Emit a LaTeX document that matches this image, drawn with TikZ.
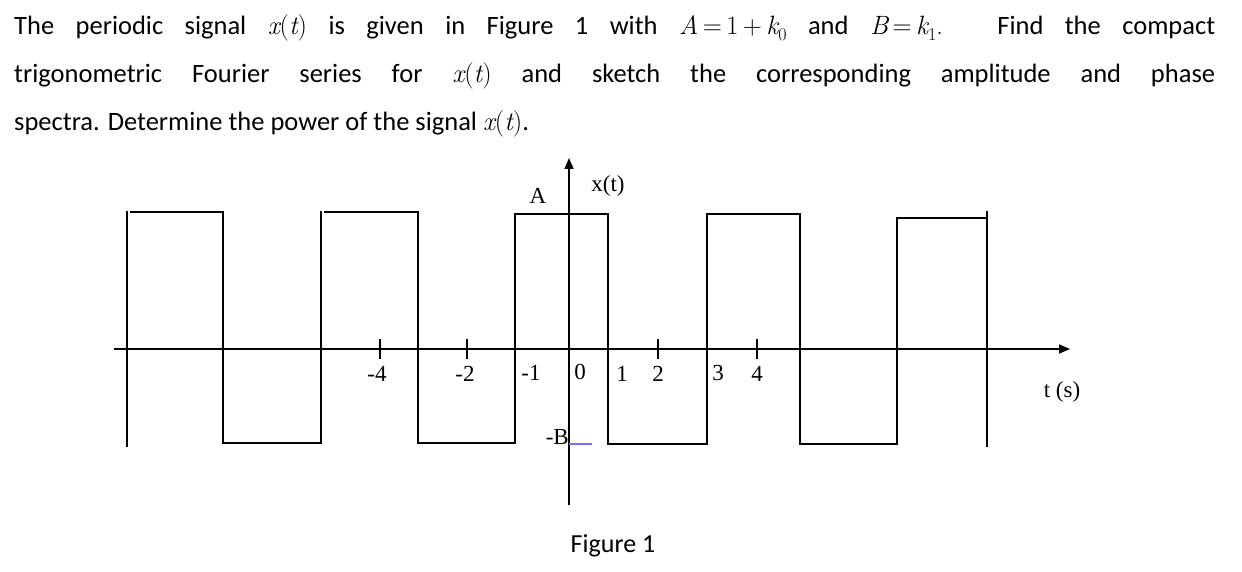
\documentclass[tikz,border=0pt]{standalone}
\usepackage{fontspec}
\setmainfont{Carlito}
\newfontfamily\tnr{Liberation Serif}
\newfontfamily\cmath{Latin Modern Roman}
\newcommand\mv[1]{{\cmath\itshape #1}}
\newcommand\mr[1]{{\cmath #1}}
\newcommand\sub[1]{\raisebox{-0.22em}{\cmath\fontsize{18}{18}\selectfont #1}}
\usetikzlibrary{arrows.meta}
\begin{document}
\begin{tikzpicture}[x=1pt,y=-1pt,
  sig/.style={line width=1.6pt,line cap=rect},
  ax/.style={line width=1.6pt},
  lab/.style={font=\tnr\fontsize{23}{23}\selectfont,inner sep=0pt},
  txt/.style={anchor=base west,inner sep=0pt,font=\fontsize{26.5}{30}\selectfont}]
\useasboundingbox (0,0) rectangle (1242,572);
\node[txt] (l1) at (14,35) {\makebox[1201pt][s]{The periodic signal \mv{x}\mr{(}\mv{t}\mr{)} is given in Figure 1 with \mv{A}\,\mr{=}\,\mr{1}\,\mr{+}\,\mv{k}\sub{0} and \mv{B}\,\mr{=}\,\mv{k}\sub{1}\mr{.} Find the compact}};
\node[txt] (l2) at (14,83) {\makebox[1201pt][s]{trigonometric Fourier series for \mv{x}\mr{(}\mv{t}\mr{)} and sketch the corresponding amplitude and phase}};
\node[txt] (l3) at (14,131) {spectra. Determine the power of the signal \mv{x}\mr{(}\mv{t}\mr{)}.};
% axes
\coordinate (xs) at (114,349); \coordinate (xe) at (1070,349);
\coordinate (ys) at (569,505); \coordinate (ye) at (569,158);
\draw[ax,-{Triangle[length=11pt,width=9pt]}] (xs) -- (xe);
\draw[ax,-{Triangle[length=11pt,width=9pt]}] (ys) -- (ye);
% signal
\draw[sig] (127,446) -- (127,212);
\draw[sig] (131,212) -- (223,212) -- (223,443) -- (321,443) -- (321,212);
\draw[sig] (325,212) -- (418,212) -- (418,443) -- (515,443) -- (515,214) -- (608,214) -- (608,444) -- (707,444) -- (707,214);
\draw[sig] (707,214) -- (800,214) -- (800,444) -- (897,444) -- (897,218) -- (987,218);
\draw[sig] (987,212) -- (987,446);
% ticks
\foreach \x/\n in {380/tm4,467/tm2,658/tp2,757/tp4}{\draw[ax] (\x,339) -- (\x,359) coordinate (\n);}
\node[lab] (n4) at (377,374) {-4};
\node[lab] (n2) at (465,374) {-2};
\node[lab] (n1) at (531,373) {-1};
\node[lab] (z0) at (580,372) {0};
\node[lab] (p1) at (622,374) {1};
\node[lab] (p2) at (658,374) {2};
\node[lab] (p3) at (718,373) {3};
\node[lab] (p4) at (757,374) {4};
\node[lab] (A) at (538,196) {A};
\node[lab] (xt) at (608,186) {x(t)};
\node[lab,anchor=east] (mB) at (569,437) {-B};
\draw[line width=1.2pt,blue!55!white] (569,444) -- (592,444);
\node[lab] (ts) at (1062,392) {t (s)};
\node[inner sep=0pt,font=\fontsize{26}{30}\selectfont] (fig) at (613,546) {Figure 1};
\end{tikzpicture}
\end{document}
